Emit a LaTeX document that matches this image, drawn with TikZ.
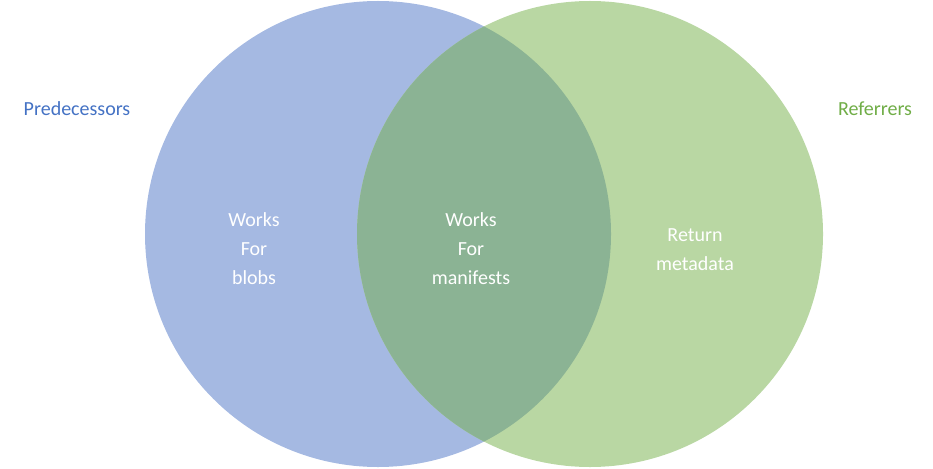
\documentclass[tikz,border=0pt]{standalone}
\usepackage{fontspec}
\setmainfont{Carlito}
\definecolor{lb}{HTML}{A5B9E2}
\definecolor{rg}{HTML}{B9D7A3}
\definecolor{ov}{HTML}{8BB394}
\definecolor{tb}{HTML}{4472C4}
\definecolor{tg}{HTML}{70AD47}
\begin{document}
\begin{tikzpicture}[x=1pt,y=-1pt,
  lbl/.style={font=\fontsize{20}{29}\selectfont,align=center,text=white},
  side/.style={font=\fontsize{20}{24}\selectfont}]
\useasboundingbox (0,0) rectangle (933,468);
\fill[lb] (378,234) circle (233);
\fill[rg] (590,234) circle (233);
\begin{scope}
\clip (378,234) circle (233);
\fill[ov] (590,234) circle (233);
\end{scope}
\node[side,text=tb] (p) at (77,109) {Predecessors};
\node[side,text=tg] (r) at (875,109) {Referrers};
\node[lbl] (a) at (254,249) {Works\\For\\blobs};
\node[lbl] (b) at (471,249) {Works\\For\\manifests};
\node[lbl] (c) at (695,250) {Return\\metadata};
\end{tikzpicture}
\end{document}
